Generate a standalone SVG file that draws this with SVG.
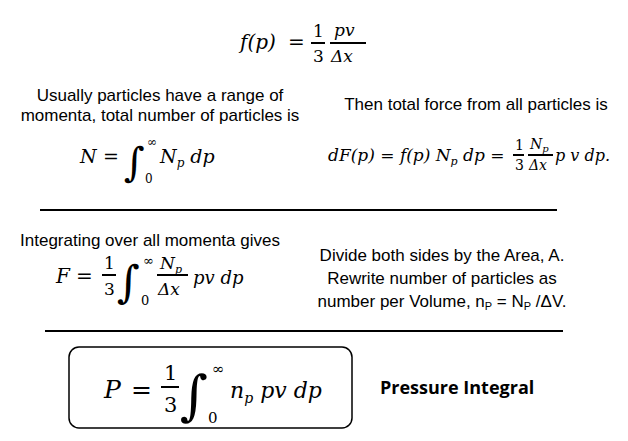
<svg xmlns="http://www.w3.org/2000/svg" width="628" height="441" viewBox="0 0 628 441">
<style>
.t{font-family:"Liberation Sans",Arial,sans-serif;font-size:17px;fill:#000}
.m{font-family:"DejaVu Serif","Liberation Serif",serif;font-style:italic;fill:#000}
.r{font-family:"DejaVu Serif","Liberation Serif",serif;font-style:normal;fill:#000}
.ln{stroke:#000;stroke-width:2}
</style>
<rect width="628" height="441" fill="#fff"/>
<g id="eq-f">
<text class="m" x="240" y="49" font-size="20">f(p)</text>
<text class="r" x="288" y="49" font-size="20">=</text>
<text class="r" x="313" y="37" font-size="17">1</text>
<line class="ln" x1="311" y1="43" x2="325" y2="43" stroke-width="1.2"/>
<text class="r" x="313" y="62" font-size="17">3</text>
<text class="m" x="334" y="36" font-size="17">pv</text>
<line class="ln" x1="330" y1="43" x2="366" y2="43" stroke-width="1.2"/>
<text class="m" x="331" y="62" font-size="17">Δx</text>
</g>
<g id="txt-usually">
<text class="t" x="160" y="101" text-anchor="middle">Usually particles have a range of</text>
<text class="t" x="160" y="121" text-anchor="middle">momenta, total number of particles is</text>
</g>
<g id="eq-N">
<text class="m" x="80" y="163" font-size="19">N</text>
<text class="r" x="103" y="163" font-size="19">=</text>
<text class="r" x="124" y="176" font-size="40">∫</text>
<text class="r" x="147" y="146" font-size="12">∞</text>
<text class="r" x="145" y="183" font-size="12">0</text>
<text class="m" x="160" y="163" font-size="19">N<tspan font-size="12" dy="4">p</tspan><tspan dy="-4"> dp</tspan></text>
</g>
<g id="txt-then">
<text class="t" x="476" y="110" text-anchor="middle">Then total force from all particles is</text>
</g>
<g id="eq-dF">
<text class="m" x="328" y="161" font-size="17">dF(p) = f(p) N<tspan font-size="11" dy="4">p</tspan><tspan dy="-4"> dp =</tspan></text>
<text class="r" x="515" y="150" font-size="14">1</text>
<line class="ln" x1="513" y1="155" x2="524" y2="155" stroke-width="1"/>
<text class="r" x="515" y="170" font-size="14">3</text>
<text class="m" x="530" y="149" font-size="14">N<tspan font-size="10" dy="3">p</tspan></text>
<line class="ln" x1="528" y1="155" x2="553" y2="155" stroke-width="1"/>
<text class="m" x="529" y="170" font-size="14">Δx</text>
<text class="m" x="555" y="161" font-size="16">p v dp.</text>
</g>
<line class="ln" x1="40" y1="210" x2="557" y2="210"/>
<g id="txt-integrating">
<text class="t" x="150" y="246" text-anchor="middle">Integrating over all momenta gives</text>
</g>
<g id="eq-F">
<text class="m" x="56" y="283" font-size="20">F</text>
<text class="r" x="76" y="283" font-size="20">=</text>
<text class="r" x="104" y="269" font-size="17">1</text>
<line class="ln" x1="102" y1="275" x2="116" y2="275" stroke-width="1.2"/>
<text class="r" x="104" y="295" font-size="17">3</text>
<text class="r" x="117" y="297" font-size="44">∫</text>
<text class="r" x="143" y="265" font-size="13">∞</text>
<text class="r" x="141" y="305" font-size="13">0</text>
<text class="m" x="160" y="269" font-size="17">N<tspan font-size="11" dy="4">p</tspan></text>
<line class="ln" x1="157" y1="275" x2="188" y2="275" stroke-width="1.2"/>
<text class="m" x="158" y="295" font-size="17">Δx</text>
<text class="m" x="193" y="284" font-size="18">pv dp</text>
</g>
<g id="txt-divide">
<text class="t" x="442" y="261" text-anchor="middle">Divide both sides by the Area, A.</text>
<text class="t" x="442" y="284" text-anchor="middle">Rewrite number of particles as</text>
<text class="t" x="442" y="307" text-anchor="middle">number per Volume, n<tspan font-size="11" dy="3">P</tspan><tspan dy="-3"> = N</tspan><tspan font-size="11" dy="3">P</tspan><tspan dy="-3"> /ΔV.</tspan></text>
</g>
<line class="ln" x1="45" y1="331" x2="563" y2="331"/>
<g id="box-pressure">
<rect x="69" y="347" width="283" height="81" rx="10" fill="none" stroke="#000" stroke-width="1.5"/>
<text class="m" x="104" y="398" font-size="25">P</text>
<text class="r" x="131" y="398" font-size="25">=</text>
<text class="r" x="164" y="380" font-size="21">1</text>
<line class="ln" x1="161" y1="387" x2="179" y2="387" stroke-width="1.4"/>
<text class="r" x="164" y="412" font-size="21">3</text>
<text class="r" x="180" y="414" font-size="54">∫</text>
<text class="r" x="212" y="374" font-size="15">∞</text>
<text class="r" x="208" y="423" font-size="15">0</text>
<text class="m" x="230" y="398" font-size="22">n<tspan font-size="14" dy="5">p</tspan><tspan dy="-5"> pv dp</tspan></text>
</g>
<g id="label-pressure">
<text x="380" y="394" font-family="'Open Sans','Liberation Sans',sans-serif" font-weight="bold" font-size="18">Pressure Integral</text>
</g>
</svg>
